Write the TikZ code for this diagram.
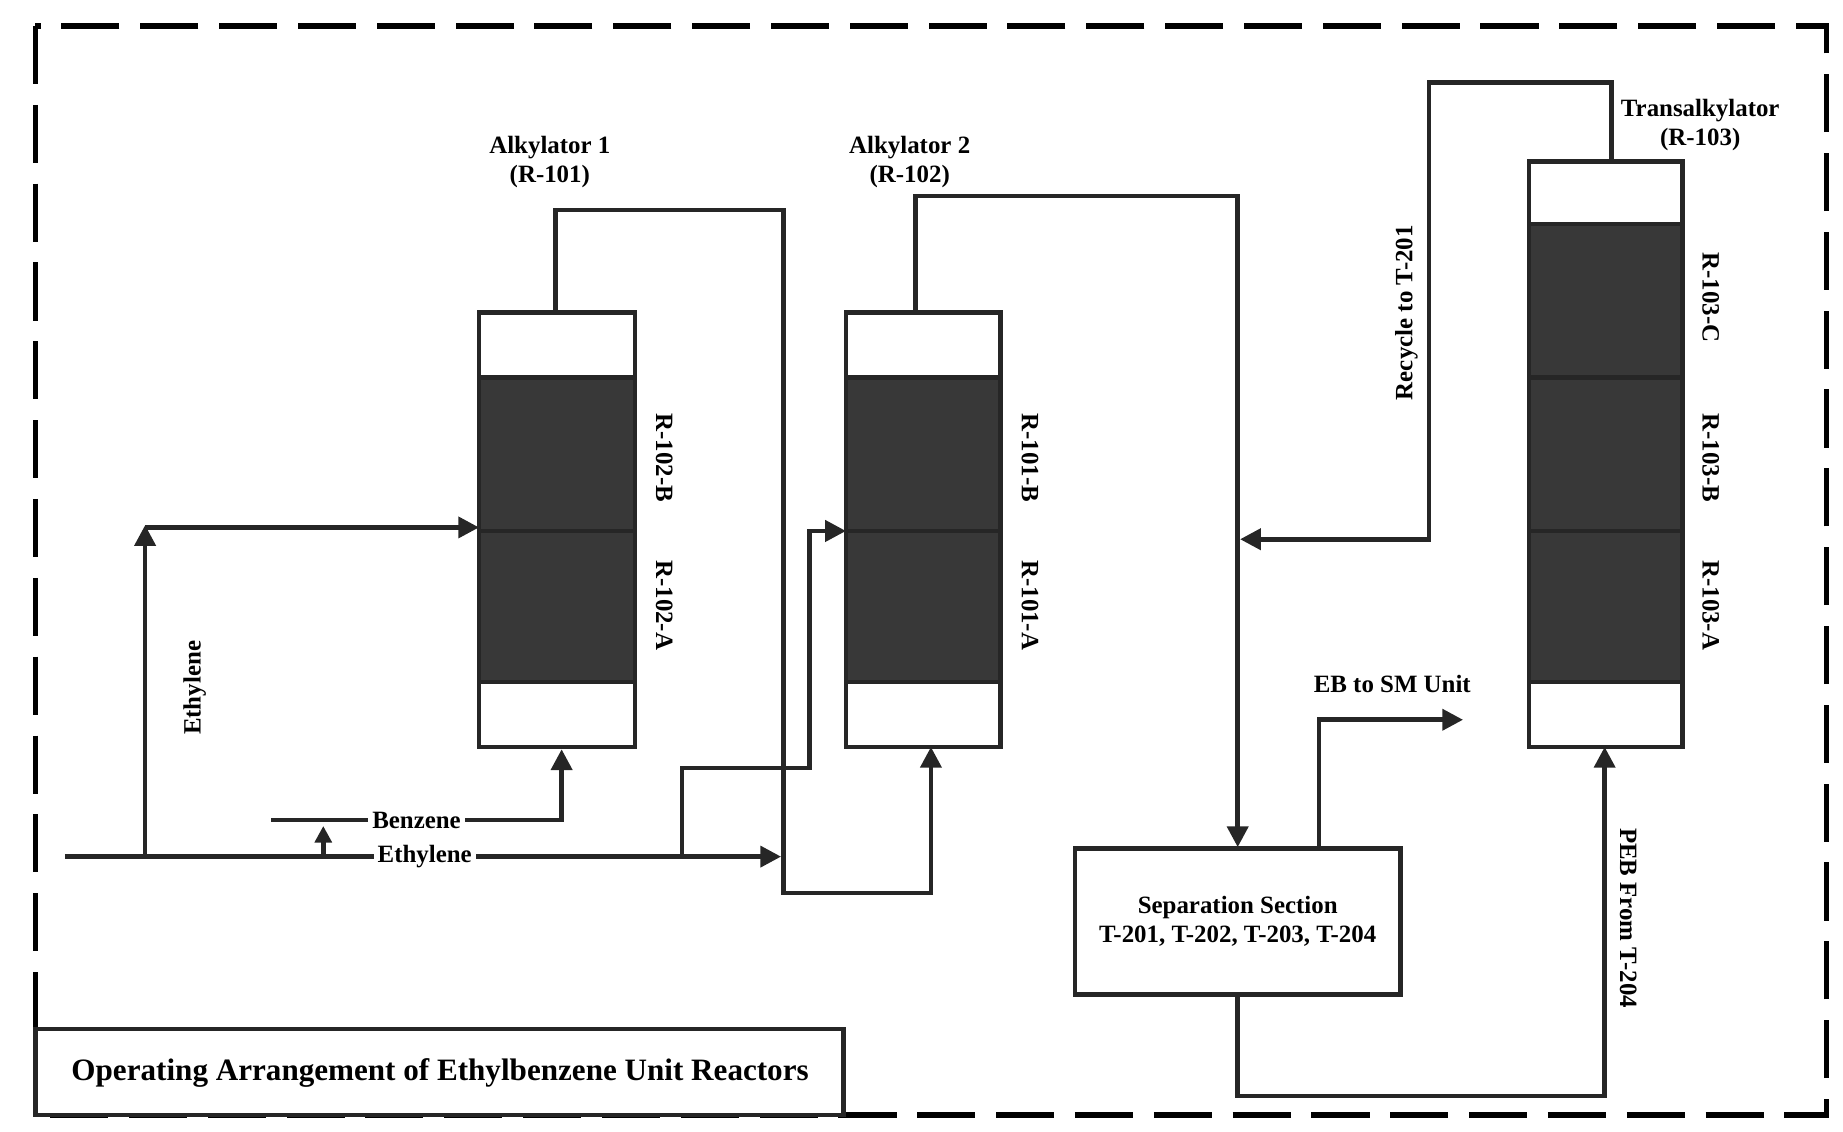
\documentclass[tikz,border=0pt]{standalone}
\usepackage{fontspec}
\setmainfont{Liberation Serif}
\usetikzlibrary{arrows.meta}
\begin{document}
\begin{tikzpicture}[x=0.01cm,y=-0.01cm,
  pipe/.style={line width=1.1pt,draw=black!85},
  arr/.style={pipe,-{Triangle[length=5pt,width=5pt]}},
  lbl/.style={font=\bfseries\fontsize{6}{7}\selectfont,align=center,inner sep=1pt},
  wbox/.style={draw=black!85,line width=1.1pt,fill=white},
  dbox/.style={draw=black!85,line width=1.1pt,fill=black!78}]
\useasboundingbox (0,0) rectangle (1562,959);
\draw[line width=1.3pt,dash pattern=on 14pt off 5pt] (30,22) rectangle (1548,945);
% reactor 1
\draw[wbox] (406,265) rectangle (538,320);
\draw[dbox] (406,320) rectangle (538,578);
\draw[wbox] (406,578) rectangle (538,633);
\draw[pipe] (406,450) -- (538,450);
% reactor 2
\draw[wbox] (717,265) rectangle (848,320);
\draw[dbox] (717,320) rectangle (848,578);
\draw[wbox] (717,578) rectangle (848,633);
\draw[pipe] (717,450) -- (848,450);
% reactor 3
\draw[wbox] (1296,137) rectangle (1426,190);
\draw[dbox] (1296,190) rectangle (1426,578);
\draw[wbox] (1296,578) rectangle (1426,633);
\draw[pipe] (1296,320) -- (1426,320) (1296,450) -- (1426,450);
% labels
\node[lbl] (a1) at (466,137) {Alkylator 1\\(R-101)};
\node[lbl] (a2) at (771,137) {Alkylator 2\\(R-102)};
\node[lbl] (a3) at (1441,106) {Transalkylator\\(R-103)};
\node[lbl,rotate=-90] (l1) at (563,388) {R-102-B};
\node[lbl,rotate=-90] (l2) at (563,513) {R-102-A};
\node[lbl,rotate=-90] (l3) at (873,388) {R-101-B};
\node[lbl,rotate=-90] (l4) at (873,513) {R-101-A};
\node[lbl,rotate=-90] (l5) at (1450,252) {R-103-C};
\node[lbl,rotate=-90] (l6) at (1450,388) {R-103-B};
\node[lbl,rotate=-90] (l7) at (1450,513) {R-103-A};
% pipes
\draw[arr] (471,265) -- (471,178) -- (664,178) -- (664,757) -- (789,757) -- (789,633);
\draw[arr] (55,726) -- (662,726);
\draw[arr] (123,726) -- (123,445);
\draw[arr] (123,447) -- (406,447);
\draw[arr] (230,695) -- (476,695) -- (476,635);
\draw[pipe,-{Triangle[length=4pt,width=4pt]}] (274,726) -- (274,700);
\draw[arr] (578,726) -- (578,651) -- (686,651) -- (686,450) -- (717,450);
\node[lbl,fill=white] (eth) at (360,726) {Ethylene};
\node[lbl,fill=white] (ben) at (353,695) {Benzene};
\node[lbl,rotate=90] (eth2) at (165,583) {Ethylene};
\draw[arr] (776,265) -- (776,166) -- (1049,166) -- (1049,718);
\draw[wbox] (911,719) rectangle (1187,843);
\node[lbl] (septxt) at (1049,781) {Separation Section\\T-201, T-202, T-203, T-204};
\draw[arr] (1118,719) -- (1118,610) -- (1240,610);
\node[lbl] (eb) at (1180,580) {EB to SM Unit};
\draw[arr] (1049,843) -- (1049,929) -- (1360,929) -- (1360,633);
\node[lbl,rotate=-90] (peb) at (1380,778) {PEB From T-204};
\draw[arr] (1366,137) -- (1366,70) -- (1211,70) -- (1211,457) -- (1051,457);
\node[lbl,rotate=90] (rec) at (1192,265) {Recycle to T-201};
\draw[wbox] (30,872) rectangle (715,945);
\node[lbl,font=\bfseries\fontsize{7.5}{9}\selectfont] (title) at (373,909) {Operating Arrangement of Ethylbenzene Unit Reactors};
\end{tikzpicture}
\end{document}
